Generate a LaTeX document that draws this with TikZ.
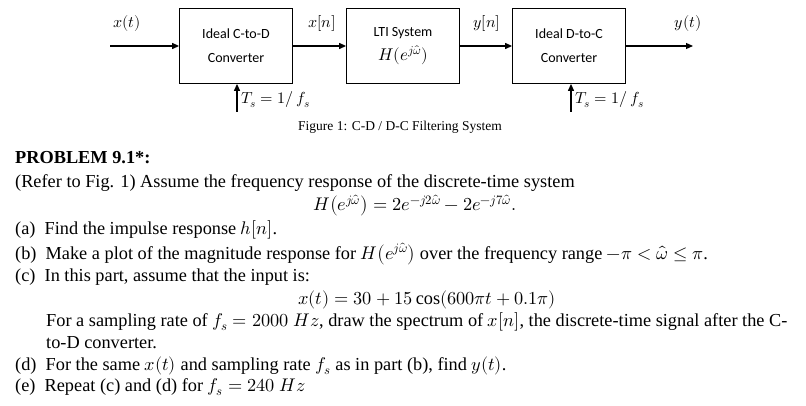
\documentclass[tikz,border=0pt]{standalone}
\usepackage{unicode-math}
\setmainfont{Liberation Serif}
\setmathfont{Latin Modern Math}
\newfontfamily\calfont{Carlito}
\usetikzlibrary{arrows.meta}
\begin{document}
\begin{tikzpicture}[x=1pt,y=-1pt,
  blk/.style={draw,line width=0.8pt,minimum width=113pt,minimum height=75pt,align=center,font=\calfont\fontsize{14}{24}\selectfont,inner sep=0},
  arr/.style={line width=1.2pt,-{Triangle[length=7pt,width=6pt]}},
  txt/.style={anchor=base west,inner sep=0,font=\fontsize{18.3}{20}\selectfont},
  lbl/.style={font=\fontsize{16}{18}\selectfont,inner sep=0}]
\useasboundingbox (0,0) rectangle (806,406);
\node[blk] (cd) at (236,46) {Ideal C-to-D\\Converter};
\node[blk] (lti) at (403,46) {LTI System\\{\fontsize{17}{20}\selectfont$H(e^{j\hat\omega})$}};
\node[blk] (dc) at (569,46) {Ideal D-to-C\\Converter};
\coordinate (in) at (110,46);
\coordinate (out) at (693,46);
\coordinate (t1) at (237,112);
\coordinate (t2) at (571,112);
\draw[arr] (in) -- (cd);
\draw[arr] (cd) -- (lti);
\draw[arr] (lti) -- (dc);
\draw[arr] (dc) -- (out);
\draw[arr] (t1) -- (t1|-cd.south);
\draw[arr] (t2) -- (t2|-dc.south);
\node[lbl] (lx) at (127,24) {$x(t)$};
\node[lbl] (lxn) at (322,24) {$x[n]$};
\node[lbl] (lyn) at (487,24) {$y[n]$};
\node[lbl] (lyt) at (688,24) {$y(t)$};
\node[lbl,anchor=west] (ts1) at (241,100) {$T_s=1/\,f_s$};
\node[lbl,anchor=west] (ts2) at (575,100) {$T_s=1/\,f_s$};
\node[font=\fontsize{13.5}{14}\selectfont,inner sep=0] (cap) at (400,127) {Figure 1: C-D / D-C Filtering System};
\node[txt] (p) at (15,164) {\textbf{PROBLEM 9.1*:}};
\node[txt] (l1) at (15,188) {(Refer to Fig. 1) Assume the frequency response of the discrete-time system};
\node[txt,anchor=base] (l2) at (415,211) {$H\big(e^{j\hat\omega}\big)=2e^{-j2\hat\omega}-2e^{-j7\hat\omega}.$};
\node[txt] (la) at (15,235) {(a)\ \ Find the impulse response $h[n]$.};
\node[txt] (lb) at (15,259) {(b)\ \ Make a plot of the magnitude response for $H\big(e^{j\hat\omega}\big)$ over the frequency range $-\pi<\hat\omega\le\pi$.};
\node[txt] (lc) at (15,281) {(c)\ \ In this part, assume that the input is:};
\node[txt,anchor=base] (lx2) at (427,304) {$x(t)=30+15\cos(600\pi t+0.1\pi)$};
\node[txt] (lf) at (46,326) {For a sampling rate of $f_s=2000\ Hz$, draw the spectrum of $x[n]$, the discrete-time signal after the C-};
\node[txt] (lf2) at (46,348) {to-D converter.};
\node[txt] (ld) at (15,370) {(d)\ \ For the same $x(t)$ and sampling rate $f_s$ as in part (b), find $y(t)$.};
\node[txt] (le) at (15,391) {(e)\ \ Repeat (c) and (d) for $f_s=240\ Hz$};
\end{tikzpicture}
\end{document}
